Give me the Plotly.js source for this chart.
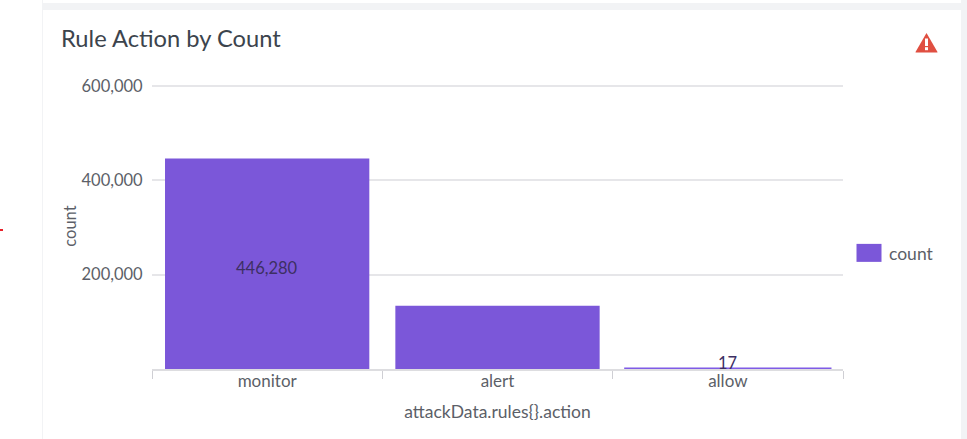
<!DOCTYPE html>
<html>
<head>
<meta charset="utf-8">
<script src="https://cdn.plot.ly/plotly-3.0.1.min.js"></script>
<style>
html,body{margin:0;padding:0;background:#fff;width:967px;height:439px;overflow:hidden}
.band{position:absolute;background:#f2f3f5}
#chart{position:absolute;left:0;top:0;width:967px;height:439px}
#warn{position:absolute;left:915px;top:32px;width:23px;height:21px}
</style>
</head>
<body>
<div class="band" style="left:43px;top:3px;width:918px;height:7px"></div>
<div class="band" style="left:961px;top:0;width:6px;height:439px"></div>
<div class="band" style="left:42px;top:0;width:1px;height:439px"></div>
<div style="position:absolute;left:0;top:229px;width:3px;height:2px;background:#e8202a"></div>
<div id="chart"></div>
<svg id="warn" viewBox="0 0 23 21"><path d="M11.5 1 L22.5 20 Q22.5 20.5 22 20.5 L1 20.5 Q.5 20.5 .5 20 Z" fill="#e04f41"/><rect x="10" y="6.5" width="3" height="7.5" fill="#fff"/><rect x="10" y="15.2" width="3" height="3" fill="#fff"/></svg>
<script>
const categories = ["monitor", "alert", "allow"];
const counts = [446280, 134000, 17];
const barLabels = ["446,280", "", "17"];
const yTicks = [200000, 400000, 600000];
const seriesName = "count";
const xTitle = "attackData.rules{}.action";
const yTitle = "count";
const chartTitle = "Rule Action by Count";

const FONT = "Lato, 'Open Sans', sans-serif";
const BAR = "#7b57d9";

const labelAnnotations = categories.map((c, i) => ({
  x: c, xref: "x",
  y: i === 0 ? counts[i] / 2 : counts[i], yref: "y",
  yshift: i === 0 ? -4 : 6,
  text: barLabels[i],
  showarrow: false,
  font: {family: FONT, size: 16.5, color: "#3d2f63"}
})).filter(a => a.text);

Plotly.newPlot("chart", [{
  type: "bar",
  name: seriesName,
  x: categories,
  y: counts,
  showlegend: true,
  marker: {color: BAR, line: {color: "#7f5be6", width: [0, 0, 3]}},
  hoverinfo: "x+y"
}], {
  width: 967, height: 439,
  margin: {l: 152, r: 124, t: 83, b: 70, pad: 0},
  paper_bgcolor: "rgba(0,0,0,0)",
  plot_bgcolor: "rgba(0,0,0,0)",
  font: {family: FONT, color: "#5c5f68", size: 16.5},
  bargap: 0.113,
  title: {text: chartTitle, x: 61/967, xref: "container", xanchor: "left", y: 1 - 39/439, yanchor: "middle", automargin: false,
          font: {family: FONT, size: 23.7, color: "#3c444d"}},
  xaxis: {
    type: "category", categoryorder: "array", categoryarray: categories,
    tickson: "boundaries", ticks: "outside", ticklen: 8, tickwidth: 1, tickcolor: "#cfcfd4",
    ticklabelstandoff: -4,
    showline: true, linecolor: "#dddde0", linewidth: 2, showgrid: false, zeroline: false,
    tickfont: {family: FONT, size: 17, color: "#5c5f68"},
    title: {text: xTitle, standoff: 15, font: {family: FONT, size: 17.5, color: "#5c5f68"}},
    automargin: false
  },
  yaxis: {
    range: [0, 606360], tickmode: "array", tickvals: yTicks, tickformat: ",d",
    ticks: "outside", ticklen: 5, tickcolor: "rgba(0,0,0,0)",
    showgrid: true, gridcolor: "#e6e6e9", gridwidth: 2, zeroline: false, showline: false,
    tickfont: {family: FONT, size: 16.5, color: "#5c5f68"},
    title: {text: yTitle, standoff: 0, font: {family: FONT, size: 16.5, color: "#5c5f68"}},
    automargin: false
  },
  legend: {xref: "container", x: 849/967, xanchor: "left", yref: "container", y: 1 - 253/439, yanchor: "middle",
           itemwidth: 30, font: {family: FONT, size: 17.5, color: "#5c5f68"}, itemclick: false, itemdoubleclick: false},
  annotations: labelAnnotations
}, {displayModeBar: false, staticPlot: true}).then(() => {
  document.querySelectorAll("#chart .legendbar path, #chart .legendpoints path").forEach(p => {
    p.setAttribute("d", "M-12.5,-9H12.5V9H-12.5Z");
    p.style.strokeWidth = "0";
  });
});
</script>
</body>
</html>
